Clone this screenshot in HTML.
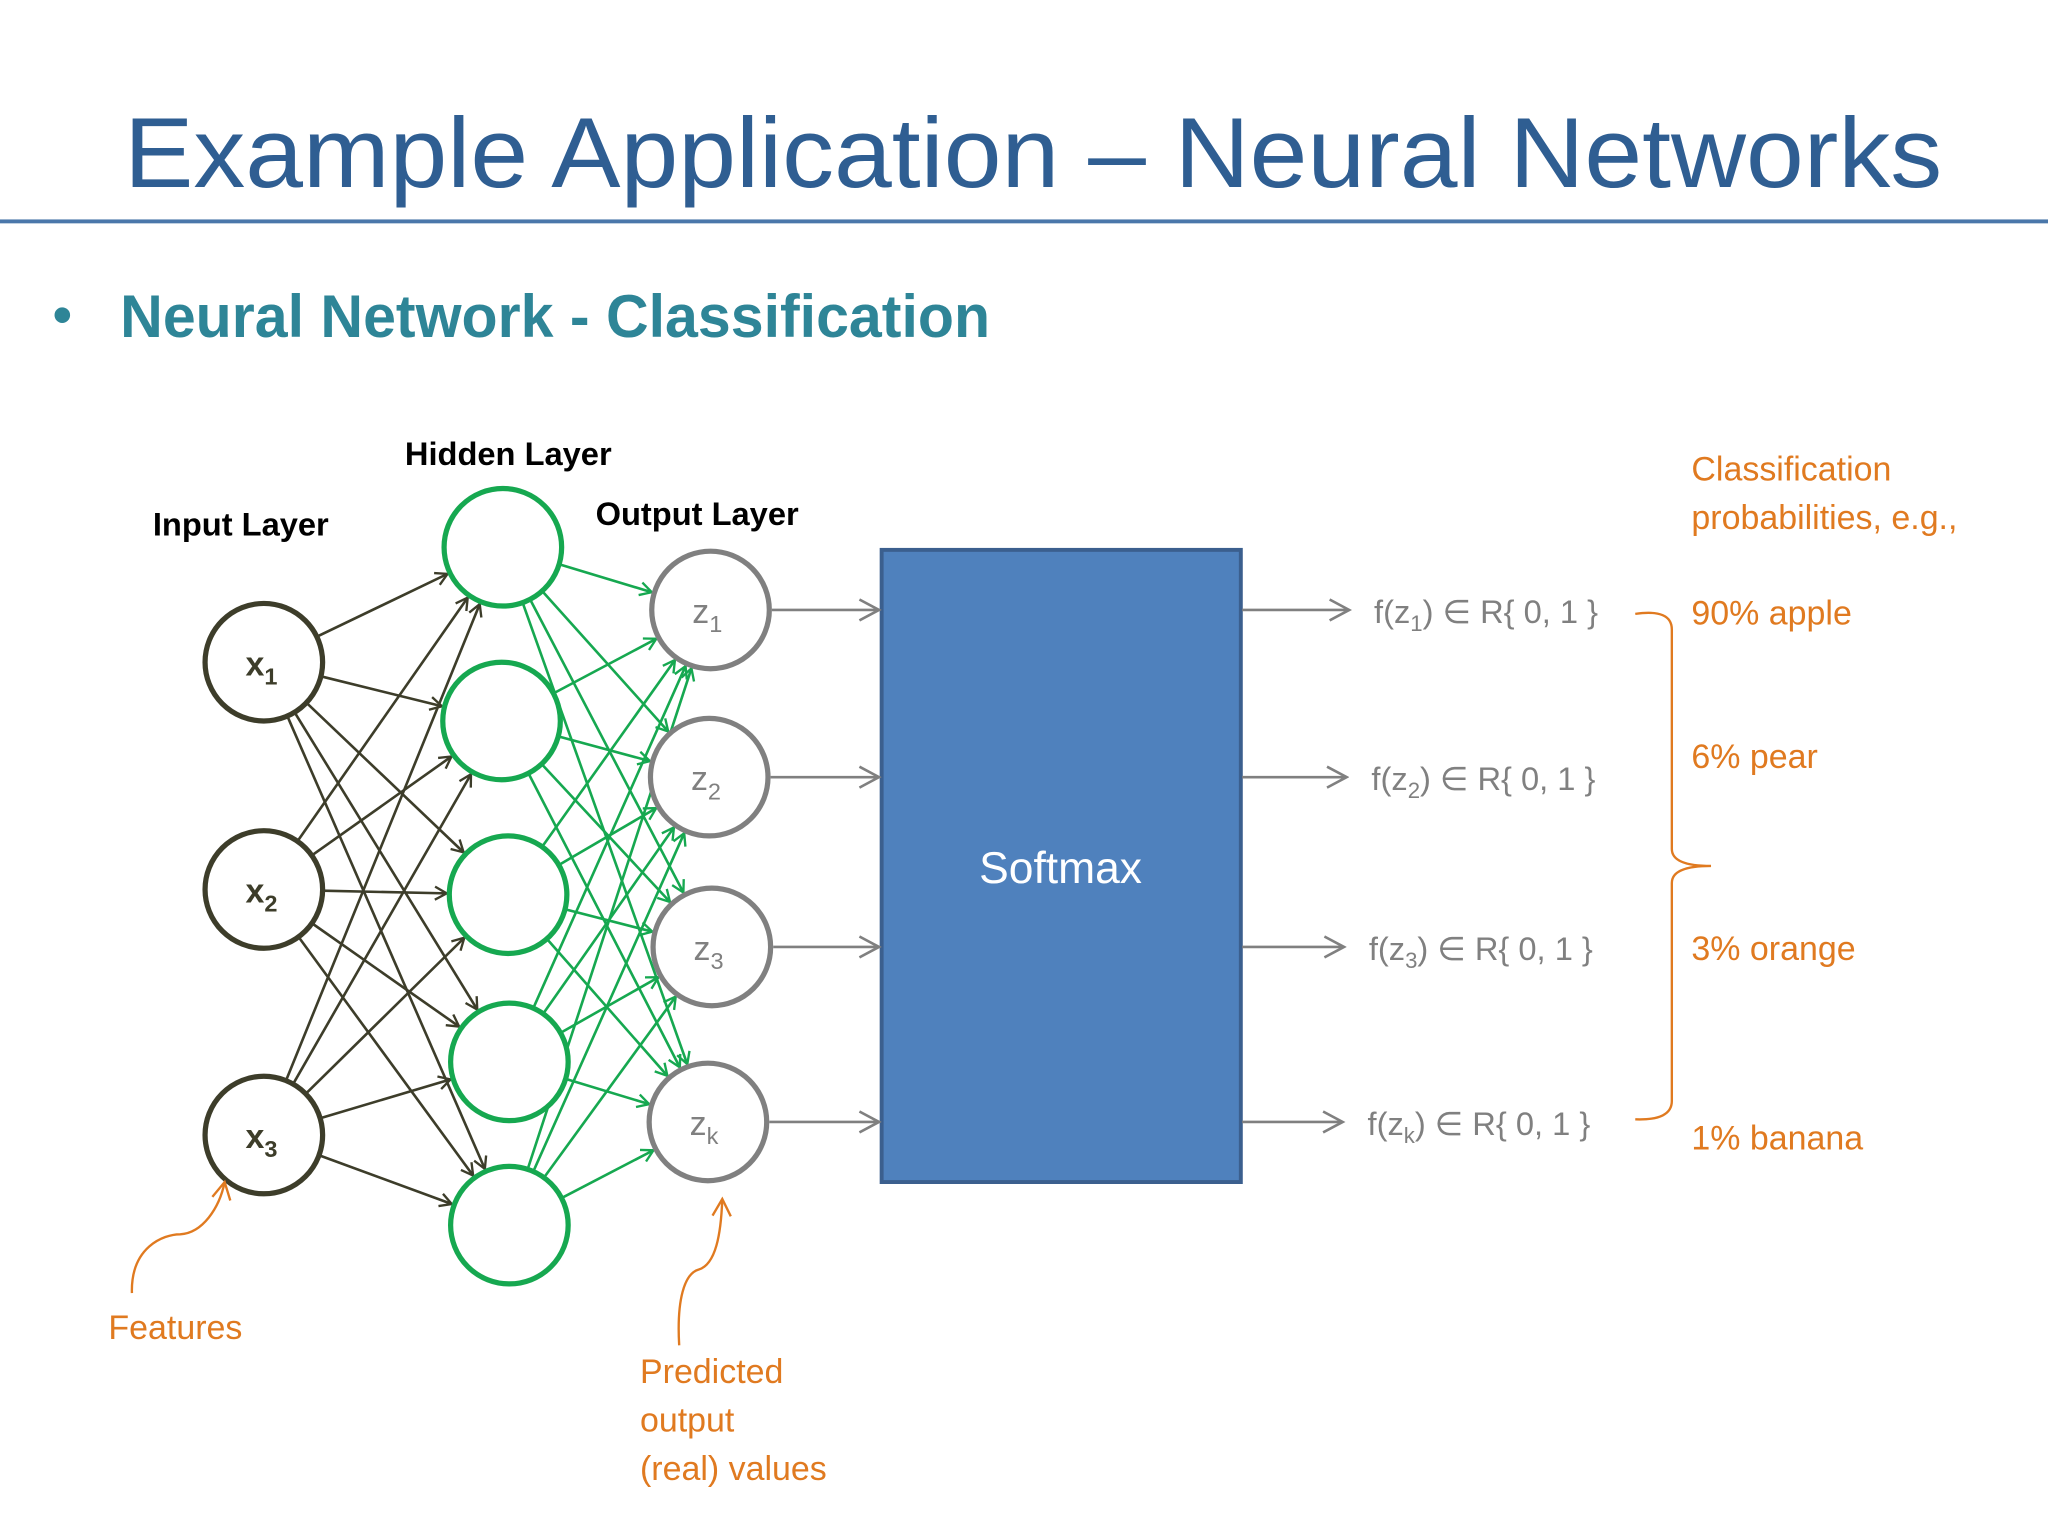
<!DOCTYPE html>
<html><head><meta charset="utf-8"><style>
html,body{margin:0;padding:0;background:#fff;}
svg{display:block}
text{font-family:"Liberation Sans","DejaVu Sans",sans-serif}
</style></head><body>
<svg id="s" width="2048" height="1536" viewBox="0 0 1568 1176" xmlns="http://www.w3.org/2000/svg">
<defs>
<marker id="ad" markerWidth="12" markerHeight="12" refX="10" refY="6" orient="auto" markerUnits="userSpaceOnUse"><path d="M1,1 L10,6 L1,11" fill="none" stroke="#3d3d2a" stroke-width="1.8"/></marker>
<marker id="ag" markerWidth="12" markerHeight="12" refX="10" refY="6" orient="auto" markerUnits="userSpaceOnUse"><path d="M1,1 L10,6 L1,11" fill="none" stroke="#16a850" stroke-width="1.8"/></marker>
<marker id="ay" markerWidth="18" markerHeight="18" refX="16" refY="9" orient="auto" markerUnits="userSpaceOnUse"><path d="M1,1 L16,9 L1,17" fill="none" stroke="#808080" stroke-width="2"/></marker>
<marker id="ao" markerWidth="16" markerHeight="16" refX="14" refY="8" orient="auto" markerUnits="userSpaceOnUse"><path d="M1,1 L14,8 L1,15" fill="none" stroke="#e07a20" stroke-width="1.8"/></marker>
</defs>
<text x="95" y="143" font-size="76" fill="#2f5e92" textLength="1392" lengthAdjust="spacingAndGlyphs">Example Application – Neural Networks</text>
<rect x="0" y="168" width="1568" height="3" fill="#4a77aa"/>
<text x="40" y="256" font-size="44" fill="#2e8597">•</text>
<text x="92" y="258" font-size="46" font-weight="bold" fill="#2e8597" textLength="666" lengthAdjust="spacingAndGlyphs">Neural Network - Classification</text>

<text x="310" y="356" font-size="25" font-weight="bold" fill="#000">Hidden Layer</text>
<text x="117" y="410" font-size="25" font-weight="bold" fill="#000">Input Layer</text>
<text x="456" y="402" font-size="25" font-weight="bold" fill="#000">Output Layer</text>

<g id="conn"></g>

<g fill="#fff" stroke="#3d3d2a" stroke-width="4">
<circle cx="202" cy="507" r="45"/><circle cx="202" cy="681" r="45"/><circle cx="202" cy="869" r="45"/>
</g>
<g fill="#fff" stroke="#16a850" stroke-width="4">
<circle cx="385" cy="419" r="45"/><circle cx="384" cy="552" r="45"/><circle cx="389" cy="685" r="45"/><circle cx="390" cy="813" r="45"/><circle cx="390" cy="938" r="45"/>
</g>
<g fill="#fff" stroke="#808080" stroke-width="4">
<circle cx="544" cy="467" r="45"/><circle cx="543" cy="595" r="45"/><circle cx="545" cy="725" r="45"/><circle cx="542" cy="859" r="45"/>
</g>
<g font-size="26" font-weight="bold" fill="#3d3d2a">
<text x="188" y="517">x<tspan font-size="18" dy="7">1</tspan></text>
<text x="188" y="691">x<tspan font-size="18" dy="7">2</tspan></text>
<text x="188" y="879">x<tspan font-size="18" dy="7">3</tspan></text>
</g>
<g font-size="26" fill="#808080">
<text x="530" y="477">z<tspan font-size="18" dy="7">1</tspan></text>
<text x="529" y="605">z<tspan font-size="18" dy="7">2</tspan></text>
<text x="531" y="735">z<tspan font-size="18" dy="7">3</tspan></text>
<text x="528" y="869">z<tspan font-size="18" dy="7">k</tspan></text>
</g>

<rect x="675" y="421" width="275" height="484" fill="#4f81bd" stroke="#3b5f8e" stroke-width="3"/>
<text x="812" y="676" font-size="34" fill="#fff" text-anchor="middle">Softmax</text>

<g stroke="#808080" stroke-width="2" marker-end="url(#ay)">
<line x1="591" y1="467" x2="673" y2="467"/><line x1="590" y1="595" x2="673" y2="595"/><line x1="592" y1="725" x2="673" y2="725"/><line x1="589" y1="859" x2="673" y2="859"/>
<line x1="951" y1="467" x2="1033" y2="467"/><line x1="951" y1="595" x2="1031" y2="595"/><line x1="951" y1="725" x2="1029" y2="725"/><line x1="951" y1="859" x2="1028" y2="859"/>
</g>
<g font-size="25" fill="#808080">
<text x="1052" y="477">f(z<tspan font-size="17" dy="6">1</tspan><tspan dy="-6">) ∈ R{ 0, 1 }</tspan></text>
<text x="1050" y="605">f(z<tspan font-size="17" dy="6">2</tspan><tspan dy="-6">) ∈ R{ 0, 1 }</tspan></text>
<text x="1048" y="735">f(z<tspan font-size="17" dy="6">3</tspan><tspan dy="-6">) ∈ R{ 0, 1 }</tspan></text>
<text x="1047" y="869">f(z<tspan font-size="17" dy="6">k</tspan><tspan dy="-6">) ∈ R{ 0, 1 }</tspan></text>
</g>

<path d="M1252,470 Q1280,466 1280,482 L1280,650 Q1280,663 1310,663 Q1280,663 1280,676 L1280,843 Q1280,858 1252,857" fill="none" stroke="#e07a20" stroke-width="1.8"/>
<g font-size="26" fill="#e07a20">
<text x="1295" y="368">Classification</text>
<text x="1295" y="405">probabilities, e.g.,</text>
<text x="1295" y="478">90% apple</text>
<text x="1295" y="588">6% pear</text>
<text x="1295" y="735">3% orange</text>
<text x="1295" y="880">1% banana</text>
<text x="83" y="1025">Features</text>
<text x="490" y="1059">Predicted</text>
<text x="490" y="1096">output</text>
<text x="490" y="1133">(real) values</text>
</g>
<path d="M101,990 C100,955 125,945 138,945 C155,944 168,925 172,905" fill="none" stroke="#e07a20" stroke-width="1.8" marker-end="url(#ao)"/>
<path d="M520,1030 C518,995 524,975 535,972 C548,968 552,945 553,918" fill="none" stroke="#e07a20" stroke-width="1.8" marker-end="url(#ao)"/>

<script>
(function(){
var I=[[202,507],[202,681],[202,869]],H=[[385,419],[384,552],[389,685],[390,813],[390,938]],O=[[544,467],[543,595],[545,725],[542,859]];
var g=document.getElementById('conn'),ns='http://www.w3.org/2000/svg';
function con(A,B,col,m){A.forEach(function(a){B.forEach(function(b){
var dx=b[0]-a[0],dy=b[1]-a[1],d=Math.sqrt(dx*dx+dy*dy),ux=dx/d,uy=dy/d;
var l=document.createElementNS(ns,'line');
l.setAttribute('x1',a[0]+ux*45);l.setAttribute('y1',a[1]+uy*45);
l.setAttribute('x2',b[0]-ux*47);l.setAttribute('y2',b[1]-uy*47);
l.setAttribute('stroke',col);l.setAttribute('stroke-width','2');l.setAttribute('marker-end','url(#'+m+')');
g.appendChild(l);});});}
con(I,H,'#3d3d2a','ad');con(H,O,'#16a850','ag');
})();
</script>
</svg>
</body></html>
